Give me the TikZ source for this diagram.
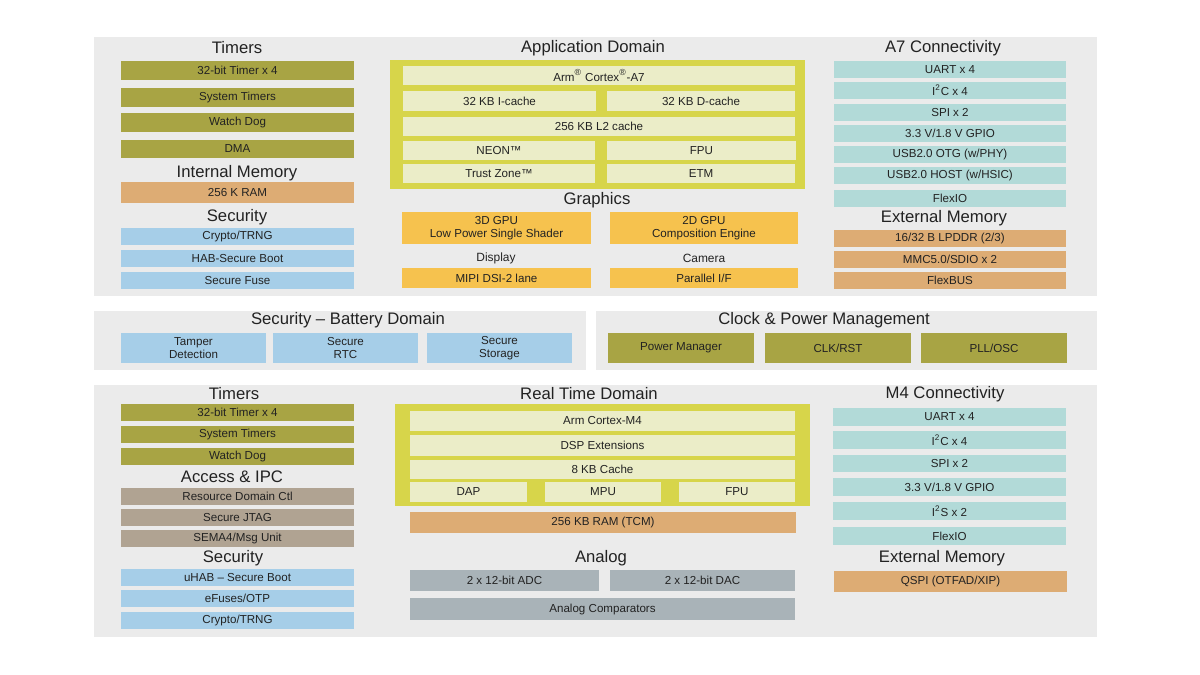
\documentclass[tikz,border=0pt]{standalone}
\usepackage{fontspec}
\setmainfont{Liberation Sans}
\definecolor{panel}{HTML}{EBEBEB}
\definecolor{olive}{HTML}{A8A444}
\definecolor{mem}{HTML}{DDAC74}
\definecolor{sec}{HTML}{A6CEE8}
\definecolor{conn}{HTML}{B2DAD8}
\definecolor{core}{HTML}{D7D54A}
\definecolor{pale}{HTML}{EBEDC8}
\definecolor{gfx}{HTML}{F6C24E}
\definecolor{ipc}{HTML}{B0A392}
\definecolor{ana}{HTML}{A9B3B8}
\definecolor{txt}{HTML}{222222}
% box from pixel corners: name, style, x1, y1, x2, y2, text
\newcommand\bx[7]{\node[#2,minimum width={(#5-#3)*0.02cm},minimum height={(#6-#4)*0.02cm}] (#1) at ({(#3+#5)/2},{(#4+#6)/2}) {#7};}
\begin{document}
\begin{tikzpicture}[x=0.02cm,y=-0.02cm,every node/.style={text=txt,inner sep=0pt,align=center},
blk/.style={rectangle,font=\fontsize{6.6}{7.6}\selectfont},
ttl/.style={font=\fontsize{9.5}{11}\selectfont},
sub/.style={font=\fontsize{6.8}{8}\selectfont},
olv/.style={blk,fill=olive},mm/.style={blk,fill=mem},sc/.style={blk,fill=sec},
cn/.style={blk,fill=conn},pl/.style={blk,fill=pale},gf/.style={blk,fill=gfx},
ip/.style={blk,fill=ipc},an/.style={blk,fill=ana}]
\useasboundingbox (0,0) rectangle (1200,675);
\fill[panel] (94,37) rectangle (1097,296);
\fill[panel] (94,311) rectangle (586,370);
\fill[panel] (596,311) rectangle (1097,370);
\fill[panel] (94,385) rectangle (1097,637);
% application side
\node[ttl] (tmA) at (237,48) {Timers};
\bx{tA1}{olv}{121}{61}{354}{80}{32-bit Timer x 4}
\bx{tA2}{olv}{121}{88}{354}{107}{System Timers}
\bx{tA3}{olv}{121}{113}{354}{132}{Watch Dog}
\bx{tA4}{olv}{121}{140}{354}{158}{DMA}
\node[ttl] (imA) at (237,173) {Internal Memory};
\bx{ram}{mm}{121}{182}{354}{203}{256 K RAM}
\node[ttl] (scA) at (237,217) {Security};
\bx{sA1}{sc}{121}{228}{354}{245}{Crypto/TRNG}
\bx{sA2}{sc}{121}{250}{354}{267}{HAB-Secure Boot}
\bx{sA3}{sc}{121}{272}{354}{289}{Secure Fuse}
\node[ttl] (apd) at (593,48) {Application Domain};
\fill[core] (390,60) rectangle (805,189);
\bx{a7}{pl}{403}{66}{795}{85}{Arm\textsuperscript{\tiny ®} Cortex\textsuperscript{\tiny ®}-A7}
\bx{ic}{pl}{403}{91}{596}{111}{32 KB I-cache}
\bx{dc}{pl}{607}{91}{795}{111}{32 KB D-cache}
\bx{l2}{pl}{403}{117}{795}{136}{256 KB L2 cache}
\bx{neon}{pl}{403}{141}{595}{160}{NEON™}
\bx{fpuA}{pl}{607}{141}{796}{160}{FPU}
\bx{tz}{pl}{403}{164}{595}{183}{Trust Zone™}
\bx{etm}{pl}{607}{164}{795}{183}{ETM}
\node[ttl] (gr) at (597,200) {Graphics};
\bx{g3}{gf}{402}{212}{591}{244}{3D GPU\\Low Power Single Shader}
\bx{g2}{gf}{610}{212}{798}{244}{2D GPU\\Composition Engine}
\node[sub] (dsp) at (496,258) {Display};
\node[sub] (cam) at (704,258) {Camera};
\bx{mipi}{gf}{402}{268}{591}{288}{MIPI DSI-2 lane}
\bx{par}{gf}{610}{268}{798}{288}{Parallel I/F}
\node[ttl] (cnA) at (943,48) {A7 Connectivity};
\bx{cA1}{cn}{834}{61}{1066}{78}{UART x 4}
\bx{cA2}{cn}{834}{82}{1066}{99}{I\textsuperscript{2}C x 4}
\bx{cA3}{cn}{834}{104}{1066}{121}{SPI x 2}
\bx{cA4}{cn}{834}{125}{1066}{142}{3.3 V/1.8 V GPIO}
\bx{cA5}{cn}{834}{146}{1066}{163}{USB2.0 OTG (w/PHY)}
\bx{cA6}{cn}{834}{167}{1066}{184}{USB2.0 HOST (w/HSIC)}
\bx{cA7}{cn}{834}{190}{1066}{207}{FlexIO}
\node[ttl] (emA) at (944,218) {External Memory};
\bx{eA1}{mm}{834}{230}{1066}{247}{16/32 B LPDDR (2/3)}
\bx{eA2}{mm}{834}{251}{1066}{268}{MMC5.0/SDIO x 2}
\bx{eA3}{mm}{834}{272}{1066}{289}{FlexBUS}
% middle band
\node[ttl] (sbd) at (348,320) {Security -- Battery Domain};
\bx{tmp}{sc}{121}{333}{266}{363}{Tamper\\Detection}
\bx{rtc}{sc}{273}{333}{418}{363}{Secure\\RTC}
\bx{sst}{sc}{427}{333}{572}{363}{Secure\\Storage}
\node[ttl] (cpm) at (824,320) {Clock \& Power Management};
\bx{pm}{olv}{608}{333}{754}{363}{Power Manager}
\bx{clk}{olv}{765}{333}{911}{363}{CLK/RST}
\bx{pll}{olv}{921}{333}{1067}{363}{PLL/OSC}
% real time side
\node[ttl] (tmB) at (234,394) {Timers};
\bx{tB1}{olv}{121}{404}{354}{421}{32-bit Timer x 4}
\bx{tB2}{olv}{121}{426}{354}{443}{System Timers}
\bx{tB3}{olv}{121}{448}{354}{465}{Watch Dog}
\node[ttl] (acc) at (232,477) {Access \& IPC};
\bx{iB1}{ip}{121}{488}{354}{505}{Resource Domain Ctl}
\bx{iB2}{ip}{121}{509}{354}{526}{Secure JTAG}
\bx{iB3}{ip}{121}{530}{354}{547}{SEMA4/Msg Unit}
\node[ttl] (scB) at (233,558) {Security};
\bx{sB1}{sc}{121}{569}{354}{586}{uHAB -- Secure Boot}
\bx{sB2}{sc}{121}{590}{354}{607}{eFuses/OTP}
\bx{sB3}{sc}{121}{612}{354}{629}{Crypto/TRNG}
\node[ttl] (rtd) at (589,394) {Real Time Domain};
\fill[core] (395,404) rectangle (810,506);
\bx{m4}{pl}{410}{411}{795}{431}{Arm Cortex-M4}
\bx{dspx}{pl}{410}{435}{795}{456}{DSP Extensions}
\bx{kc}{pl}{410}{460}{795}{479}{8 KB Cache}
\bx{dap}{pl}{410}{482}{527}{502}{DAP}
\bx{mpu}{pl}{545}{482}{661}{502}{MPU}
\bx{fpuB}{pl}{679}{482}{795}{502}{FPU}
\bx{tcm}{mm}{410}{512}{796}{533}{256 KB RAM (TCM)}
\node[ttl] (anl) at (601,558) {Analog};
\bx{adc}{an}{410}{570}{599}{591}{2 x 12-bit ADC}
\bx{dac}{an}{610}{570}{795}{591}{2 x 12-bit DAC}
\bx{cmp}{an}{410}{598}{795}{620}{Analog Comparators}
\node[ttl] (cnB) at (945,394) {M4 Connectivity};
\bx{cB1}{cn}{833}{408}{1066}{426}{UART x 4}
\bx{cB2}{cn}{833}{431}{1066}{449}{I\textsuperscript{2}C x 4}
\bx{cB3}{cn}{833}{455}{1066}{472}{SPI x 2}
\bx{cB4}{cn}{833}{478}{1066}{496}{3.3 V/1.8 V GPIO}
\bx{cB5}{cn}{833}{502}{1066}{520}{I\textsuperscript{2}S x 2}
\bx{cB6}{cn}{833}{527}{1066}{545}{FlexIO}
\node[ttl] (emB) at (942,558) {External Memory};
\bx{qspi}{mm}{834}{571}{1067}{592}{QSPI (OTFAD/XIP)}
\end{tikzpicture}
\end{document}
